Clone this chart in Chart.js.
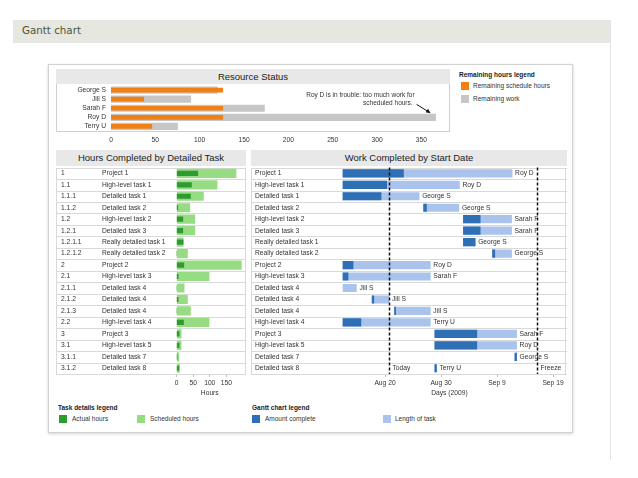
<!DOCTYPE html>
<html><head><meta charset="utf-8">
<script src="https://cdn.jsdelivr.net/npm/chart.js@4/dist/chart.umd.min.js"></script>
<style>
html,body{margin:0;padding:0;background:#fff;width:638px;height:478px;overflow:hidden;font-family:"Liberation Sans",Arial,sans-serif;}
.abs{position:absolute;}
#header{left:13px;top:20px;width:597px;height:23px;background:#e7e7e2;}
#header span{position:absolute;left:9px;top:4px;font-family:"DejaVu Sans",sans-serif;font-size:10.3px;color:#4a5632;}
#outerline{left:610px;top:20px;width:1px;height:440px;background:#e4e4e4;}
#card{left:48px;top:64px;width:523px;height:367px;border:1px solid #d2d2d2;box-shadow:0 1px 3px rgba(0,0,0,0.18);background:#fff;}
.tbar{background:#e8e8e8;color:#222;font-size:9.5px;text-align:center;}
.lt{font-size:6.5px;color:#333;line-height:8px;white-space:nowrap;}
.lb{font-size:6.5px;color:#222;font-weight:bold;line-height:8px;white-space:nowrap;}
.sq{width:8px;height:8px;}
</style></head>
<body>
<div id="header" class="abs"><span>Gantt chart</span></div>
<div id="outerline" class="abs"></div>
<div id="card" class="abs"></div>

<div class="abs tbar" style="left:56px;top:69px;width:394px;height:15px;line-height:15px;">Resource Status</div>
<div class="abs tbar" style="left:56px;top:150px;width:190px;height:16px;line-height:16px;">Hours Completed by Detailed Task</div>
<div class="abs tbar" style="left:251px;top:150px;width:316px;height:16px;line-height:16px;">Work Completed by Start Date</div>

<canvas id="res" class="abs" width="394" height="64" style="left:56px;top:84px;width:394px;height:64px;"></canvas>
<canvas id="hrs" class="abs" width="190" height="233" style="left:56px;top:167px;width:190px;height:233px;"></canvas>
<canvas id="gantt" class="abs" width="316" height="233" style="left:251px;top:167px;width:316px;height:233px;"></canvas>

<div class="abs lb" style="left:459px;top:71px;">Remaining hours legend</div>
<div class="abs sq" style="left:461px;top:82px;background:#f07f14;"></div>
<div class="abs lt" style="left:473px;top:82px;">Remaining schedule hours</div>
<div class="abs sq" style="left:461px;top:95px;background:#c6c6c6;"></div>
<div class="abs lt" style="left:473px;top:95px;">Remaining work</div>

<div class="abs lb" style="left:58px;top:404px;">Task details legend</div>
<div class="abs sq" style="left:59px;top:415px;background:#2e9b2e;"></div>
<div class="abs lt" style="left:72px;top:415px;">Actual hours</div>
<div class="abs sq" style="left:137px;top:415px;background:#95dc82;"></div>
<div class="abs lt" style="left:150px;top:415px;">Scheduled hours</div>

<div class="abs lb" style="left:252px;top:404px;">Gantt chart legend</div>
<div class="abs sq" style="left:252px;top:415px;background:#2f6fb6;"></div>
<div class="abs lt" style="left:265px;top:415px;">Amount complete</div>
<div class="abs sq" style="left:383px;top:415px;background:#a9c3ec;"></div>
<div class="abs lt" style="left:395px;top:415px;">Length of task</div>

<script>
// ---------- data ----------
const resources = ['George S','Jill S','Sarah F','Roy D','Terry U'];
const remainingSchedule = [126, 37, 126, 126, 46];
const remainingWork = [120, 90, 173, 366, 75];
const resourceTicks = [0,50,100,150,200,250,300,350];

const taskIds = ['1','1.1','1.1.1','1.1.2','1.2','1.2.1','1.2.1.1','1.2.1.2','2','2.1','2.1.1','2.1.2','2.1.3','2.2','3','3.1','3.1.1','3.1.2'];
const taskNames = ['Project 1','High-level task 1','Detailed task 1','Detailed task 2','High-level task 2','Detailed task 3','Really detailed task 1','Really detailed task 2','Project 2','High-level task 3','Detailed task 4','Detailed task 4','Detailed task 4','High-level task 4','Project 3','High-level task 5','Detailed task 7','Detailed task 8'];
const actualHours = [64,45,42,4,19,19,20,0,22,5,0,5,0,21,8,8,2,7];
const scheduledHours = [179,122,81,40,55,55,20,33,195,98,23,33,42,98,14,14,7,9];
const hoursTicks = [0,50,100,150];

// days: August = day of month, September = 31 + day
const taskStart    = [12.5,12.5,12.5,26.9,34,34,34,39.2,12.5,12.5,12.5,17.7,21.7,12.5,28.9,28.9,43.2,28.9];
const taskComplete = [23.3,20.3,19.3,27.4,37,37,36.1,39.6,14.3,13.4,null,18,21.9,15.7,36.4,36.4,43.5,29.2];
const taskEnd      = [42.7,33.3,26.1,33.2,42.6,42.6,36.1,42.6,28.1,28.1,14.9,20.7,28.1,28.1,43.5,43.5,43.5,29.2];
const taskOwner = ['Roy D','Roy D','George S','George S','Sarah F','Sarah F','George S','George S','Roy D','Sarah F','Jill S','Jill S','Jill S','Terry U','Sarah F','Roy D','George S','Terry U'];
const dateTicks = [20,30,40,50];
const dateTickLabels = ['Aug 20','Aug 30','Sep 9','Sep 19'];
const todayDay = 20.75;
const freezeDay = 47.2;

// ---------- defaults ----------
const FONT = '"Liberation Sans", Arial, sans-serif';
Chart.defaults.font.family = FONT;
Chart.defaults.font.size = 6.7;
Chart.defaults.color = '#333';
Chart.defaults.animation = false;
Chart.defaults.plugins.legend.display = false;
Chart.defaults.plugins.tooltip.enabled = false;

const LINE = '#d9d9d9';

function rowBounds(ys, i){
  const half = (ys.getPixelForValue(1) - ys.getPixelForValue(0)) / 2;
  return ys.getPixelForValue(i) + half;
}
function noVPad(s){ s.paddingTop = 0; s.paddingBottom = 0; }

// ---------- Resource Status ----------
new Chart(document.getElementById('res'), {
  type: 'bar',
  data: {
    labels: resources,
    datasets: [
      {data: remainingSchedule, backgroundColor: '#f07f14', barThickness: 4, grouped: false, order: 1},
      {data: remainingWork, backgroundColor: '#c6c6c6', barThickness: 6.5, grouped: false, order: 2}
    ]
  },
  options: {
    responsive: false, indexAxis: 'y',
    layout: {padding: {top: 1.5, right: 2, left: 0, bottom: 0}},
    scales: {
      y: {grid: {display: false, drawTicks: false}, border: {display: false},
          ticks: {padding: 5, autoSkip: false, font: {size: 6.7}, color: '#333'},
          afterFit(s){ s.width = 55; noVPad(s); }},
      x: {min: 0, max: 380, grid: {display: false, drawTicks: false}, border: {display: false},
          afterBuildTicks(s){ s.ticks = resourceTicks.map(v => ({value: v})); },
          ticks: {padding: 5.5, font: {size: 6.7}, color: '#333'},
          afterFit(s){ s.height = 17; }}
    }
  },
  plugins: [{
    id: 'resDeco',
    beforeDatasetsDraw(c){
      const ctx = c.ctx, a = c.chartArea;
      ctx.save();
      ctx.strokeStyle = '#cfcfcf'; ctx.lineWidth = 1;
      ctx.beginPath();
      ctx.moveTo(0.5, 0); ctx.lineTo(0.5, a.bottom + 0.5);
      ctx.lineTo(c.width - 0.5, a.bottom + 0.5); ctx.lineTo(c.width - 0.5, 0);
      ctx.stroke();
      ctx.restore();
    },
    afterDatasetsDraw(c){
      const ctx = c.ctx, xs = c.scales.x, ys = c.scales.y;
      const tipX = xs.getPixelForValue(remainingWork[3]) - 5;
      const tipY = ys.getPixelForValue(3) - 4;
      ctx.save();
      ctx.fillStyle = '#333';
      ctx.font = '6.5px ' + FONT;
      ctx.textAlign = 'right'; ctx.textBaseline = 'middle';
      ctx.fillText('Roy D is in trouble: too much work for', tipX - 16, tipY - 18);
      ctx.fillText('scheduled hours.', tipX - 18, tipY - 10.5);
      ctx.strokeStyle = '#111'; ctx.lineWidth = 1;
      const sx = tipX - 14, sy = tipY - 9;
      ctx.beginPath(); ctx.moveTo(sx, sy); ctx.lineTo(tipX - 2, tipY - 1.5); ctx.stroke();
      ctx.beginPath();
      ctx.moveTo(tipX, tipY); ctx.lineTo(tipX - 5, tipY - 1); ctx.lineTo(tipX - 2.5, tipY - 4.5); ctx.closePath();
      ctx.fillStyle = '#111'; ctx.fill();
      ctx.restore();
    }
  }]
});

// ---------- Hours Completed by Detailed Task ----------
new Chart(document.getElementById('hrs'), {
  type: 'bar',
  data: {
    labels: taskNames,
    datasets: [
      {data: actualHours, backgroundColor: '#2e9b2e', barThickness: 4.5, grouped: false, order: 1},
      {data: scheduledHours, backgroundColor: '#95dc82', barThickness: 8.5, grouped: false, order: 2}
    ]
  },
  options: {
    responsive: false, indexAxis: 'y',
    layout: {padding: {top: 0.6, right: 3, left: 120.5, bottom: 0}},
    scales: {
      y: {display: false},
      x: {min: 0, max: 200, grid: {drawOnChartArea: false, tickLength: 3, color: '#bbb'}, border: {display: false},
          afterBuildTicks(s){ s.ticks = hoursTicks.map(v => ({value: v})); },
          ticks: {padding: 2, font: {size: 6.7}, color: '#333'},
          title: {display: true, text: 'Hours', font: {size: 6.7}, color: '#333', padding: {top: 0, bottom: 3}},
          afterFit(s){ s.height = 26; }}
    }
  },
  plugins: [{
    id: 'hrsTable',
    beforeDatasetsDraw(c){
      const ctx = c.ctx, a = c.chartArea, ys = c.scales.y;
      ctx.save();
      ctx.strokeStyle = LINE; ctx.lineWidth = 1;
      ctx.beginPath();
      const top = Math.round(rowBounds(ys, -1)) + 0.5;
      ctx.moveTo(0, top); ctx.lineTo(c.width, top);
      for (let i = 0; i < taskIds.length; i++) {
        const y = Math.round(rowBounds(ys, i)) + 0.5;
        ctx.moveTo(0, y); ctx.lineTo(c.width, y);
      }
      const bot = Math.round(rowBounds(ys, taskIds.length - 1)) + 0.5;
      ctx.moveTo(0.5, top); ctx.lineTo(0.5, bot);
      ctx.moveTo(c.width - 0.5, top); ctx.lineTo(c.width - 0.5, bot);
      ctx.stroke();
      ctx.fillStyle = '#333';
      ctx.font = '6.7px ' + FONT;
      ctx.textBaseline = 'middle'; ctx.textAlign = 'left';
      taskIds.forEach((id, i) => {
        const y = ys.getPixelForValue(i);
        ctx.fillText(id, 5, y);
        ctx.fillText(taskNames[i], 46, y);
      });
      ctx.restore();
    }
  }]
});

// ---------- Work Completed by Start Date (Gantt) ----------
new Chart(document.getElementById('gantt'), {
  type: 'bar',
  data: {
    labels: taskNames,
    datasets: [
      {data: taskStart.map((s, i) => taskComplete[i] === null ? null : [s, taskComplete[i]]),
       backgroundColor: '#2f6fb6', barThickness: 7.5, grouped: false, order: 1},
      {data: taskStart.map((s, i) => [s, taskEnd[i]]),
       backgroundColor: '#a9c3ec', barThickness: 7.5, grouped: false, order: 2}
    ]
  },
  options: {
    responsive: false, indexAxis: 'y',
    layout: {padding: {top: 0.6, right: 2.8, left: 4, bottom: 0}},
    scales: {
      y: {grid: {display: false, drawTicks: false}, border: {display: false},
          ticks: {crossAlign: 'far', autoSkip: false, font: {size: 6.7}, color: '#333'},
          afterFit(s){ s.width = 79.6; noVPad(s); }},
      x: {min: 11, max: 52, grid: {drawOnChartArea: false, tickLength: 3, color: '#bbb'}, border: {display: false},
          afterBuildTicks(s){ s.ticks = dateTicks.map(v => ({value: v})); },
          ticks: {padding: 2, font: {size: 6.7}, color: '#333',
                  callback: (v) => dateTickLabels[dateTicks.indexOf(v)]},
          title: {display: true, text: 'Days (2009)', font: {size: 6.7}, color: '#333', padding: {top: 0, bottom: 3}},
          afterFit(s){ s.height = 26; }}
    }
  },
  plugins: [{
    id: 'ganttDeco',
    beforeDatasetsDraw(c){
      const ctx = c.ctx, a = c.chartArea, ys = c.scales.y;
      ctx.save();
      ctx.strokeStyle = LINE; ctx.lineWidth = 1;
      ctx.beginPath();
      const top = Math.round(rowBounds(ys, -1)) + 0.5;
      ctx.moveTo(0, top); ctx.lineTo(c.width, top);
      for (let i = 0; i < taskNames.length; i++) {
        const y = Math.round(rowBounds(ys, i)) + 0.5;
        ctx.moveTo(0, y); ctx.lineTo(c.width, y);
      }
      const bot = Math.round(rowBounds(ys, taskNames.length - 1)) + 0.5;
      ctx.moveTo(0.5, top); ctx.lineTo(0.5, bot);
      ctx.moveTo(c.width - 1.5, top); ctx.lineTo(c.width - 1.5, bot);
      ctx.stroke();
      ctx.restore();
    },
    afterDatasetsDraw(c){
      const ctx = c.ctx, a = c.chartArea, xs = c.scales.x, ys = c.scales.y;
      ctx.save();
      ctx.fillStyle = '#333';
      ctx.font = '6.7px ' + FONT;
      ctx.textBaseline = 'middle'; ctx.textAlign = 'left';
      taskOwner.forEach((o, i) => {
        ctx.fillText(o, xs.getPixelForValue(taskEnd[i]) + 3, ys.getPixelForValue(i));
      });
      const lastY = ys.getPixelForValue(taskNames.length - 1);
      [[todayDay, 'Today'], [freezeDay, 'Freeze']].forEach(([d, t]) => {
        const x = Math.round(xs.getPixelForValue(d)) + 0.5;
        ctx.strokeStyle = '#111'; ctx.lineWidth = 1.5; ctx.setLineDash([3, 2]);
        ctx.beginPath(); ctx.moveTo(x, a.top); ctx.lineTo(x, a.bottom); ctx.stroke();
        ctx.fillText(t, x + 3, lastY);
      });
      ctx.restore();
    }
  }]
});
</script>
</body></html>
